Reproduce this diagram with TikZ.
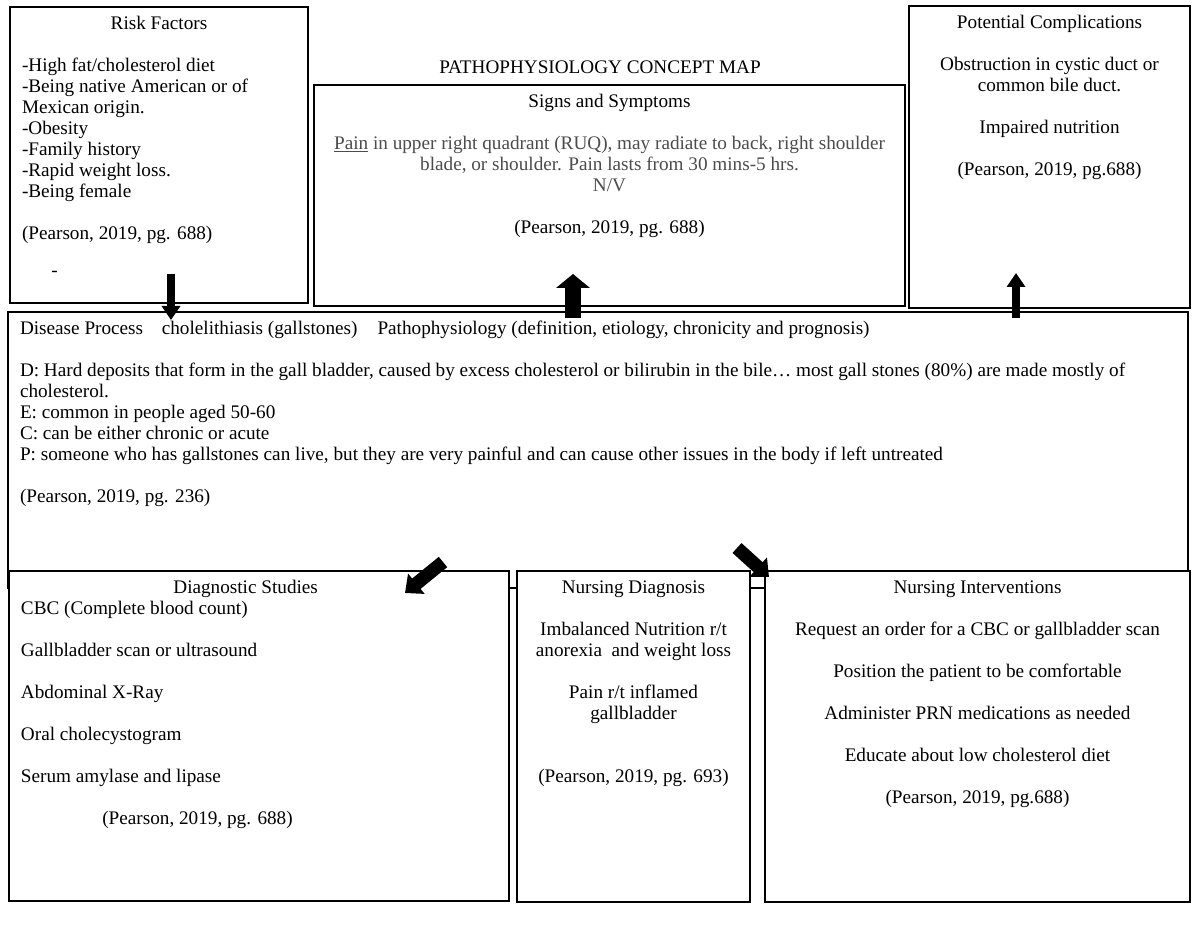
\documentclass[tikz,border=0pt]{standalone}
\usepackage{fontspec}
\setmainfont{Liberation Serif}
\usetikzlibrary{arrows.meta,positioning}

\begin{document}
\begin{tikzpicture}[
    x=0.75pt, y=-0.75pt,
    every node/.style={font={\fontsize{14.4}{15.75}\selectfont}},
    panel/.style={draw, line width=1.5pt, fill=white, anchor=north west, inner xsep=9pt, inner ysep=6pt},
    thinup/.style={line width=6pt, -{Triangle[width=13.5pt, length=10.5pt]}},
    thickup/.style={line width=11.5pt, -{Triangle[width=25pt, length=10.5pt]}},
    slant/.style={line width=10pt, -{Triangle[width=19pt, length=11pt]}}
    ]
    \useasboundingbox (0,0) rectangle (1200,927);

    \node [panel] (risk) at (9,6) {\begin{minipage}[c][210pt][t]{205.5pt}\raggedright
      \strut\hfill Risk Factors\hfill\null\\[15.75pt]
      -High fat/cholesterol diet\\
      -Being native American or of\\
      Mexican origin.\\
      -Obesity\\
      -Family history\\
      -Rapid weight loss.\\
      -Being female\\[15.75pt]
      (Pearson, 2019, pg. 688)\\[12pt]
      \hspace*{22pt}-
    \end{minipage}};

    \node [panel] (signs) at (313,84) {\begin{minipage}[c][153.75pt][t]{425.25pt}\centering
      \strut Signs and Symptoms\\[15.75pt]
      {\color{black!70}\underline{Pain} in upper right quadrant (RUQ), may radiate to back, right shoulder\\
      blade, or shoulder. Pain lasts from 30 mins-5 hrs.\\
      N/V}\\[15.75pt]
      (Pearson, 2019, pg. 688)
    \end{minipage}};

    \node [panel] (compl) at (908,5) {\begin{minipage}[c][214.5pt][t]{192.75pt}\centering
      \strut Potential Complications\\[15.75pt]
      Obstruction in cystic duct or\\
      common bile duct.\\[15.75pt]
      Impaired nutrition\\[15.75pt]
      (Pearson, 2019, pg.688)
    \end{minipage}};

    \node (title) at (600,67) {PATHOPHYSIOLOGY CONCEPT MAP};

    \node [panel] (disease) at (7,311) {\begin{minipage}[c][195pt][t]{867pt}\raggedright
      \strut Disease Process\hspace{14pt}cholelithiasis (gallstones)\hspace{15pt}Pathophysiology (definition, etiology, chronicity and prognosis)\\[15.75pt]
      D: Hard deposits that form in the gall bladder, caused by excess cholesterol or bilirubin in the bile\dots\ most gall stones (80\%) are made mostly of\\
      cholesterol.\\
      E: common in people aged 50-60\\
      C: can be either chronic or acute\\
      P: someone who has gallstones can live, but they are very painful and can cause other issues in the body if left untreated\\[15.75pt]
      (Pearson, 2019, pg. 236)
    \end{minipage}};

    \node [panel] (diag) at (8,570) {\begin{minipage}[c][235.5pt][t]{357pt}\raggedright
      \strut\hfill Diagnostic Studies\hspace{20pt}\hfill\null\\
      CBC (Complete blood count)\\[15.75pt]
      Gallbladder scan or ultrasound\\[15.75pt]
      Abdominal X-Ray\\[15.75pt]
      Oral cholecystogram\\[15.75pt]
      Serum amylase and lipase\\[15.75pt]
      \hspace*{61pt}(Pearson, 2019, pg. 688)
    \end{minipage}};

    \node [panel] (nursdiag) at (516,570) {\begin{minipage}[c][236.25pt][t]{156.75pt}\centering
      \strut Nursing Diagnosis\\[15.75pt]
      Imbalanced Nutrition r/t\\
      anorexia\ \ and weight loss\\[15.75pt]
      Pain r/t inflamed\\
      gallbladder\\[31.5pt]
      (Pearson, 2019, pg. 693)
    \end{minipage}};

    \node [panel] (interv) at (764,570) {\begin{minipage}[c][236.25pt][t]{300.75pt}\centering
      \strut Nursing Interventions\\[15.75pt]
      Request an order for a CBC or gallbladder scan\\[15.75pt]
      Position the patient to be comfortable\\[15.75pt]
      Administer PRN medications as needed\\[15.75pt]
      Educate about low cholesterol diet\\[15.75pt]
      (Pearson, 2019, pg.688)
    \end{minipage}};

    % arrow ends
    \coordinate (riskout) at (171,274);
    \coordinate (riskin) at (171,320);
    \coordinate (signsout) at (573,318);
    \coordinate (signsin) at (573,274);
    \coordinate (complout) at (1016,318);
    \coordinate (complin) at (1016,273);
    \coordinate (diagout) at (443,562);
    \coordinate (diagin) at (405,593);
    \coordinate (intervout) at (737,548);
    \coordinate (intervin) at (769,577);

    \draw[thinup] (riskout) -- (riskin);
    \draw[thickup] (signsout) -- (signsin);
    \draw[thinup] (complout) -- (complin);
    \draw[slant] (diagout) -- (diagin);
    \draw[slant] (intervout) -- (intervin);
\end{tikzpicture}
\end{document}
